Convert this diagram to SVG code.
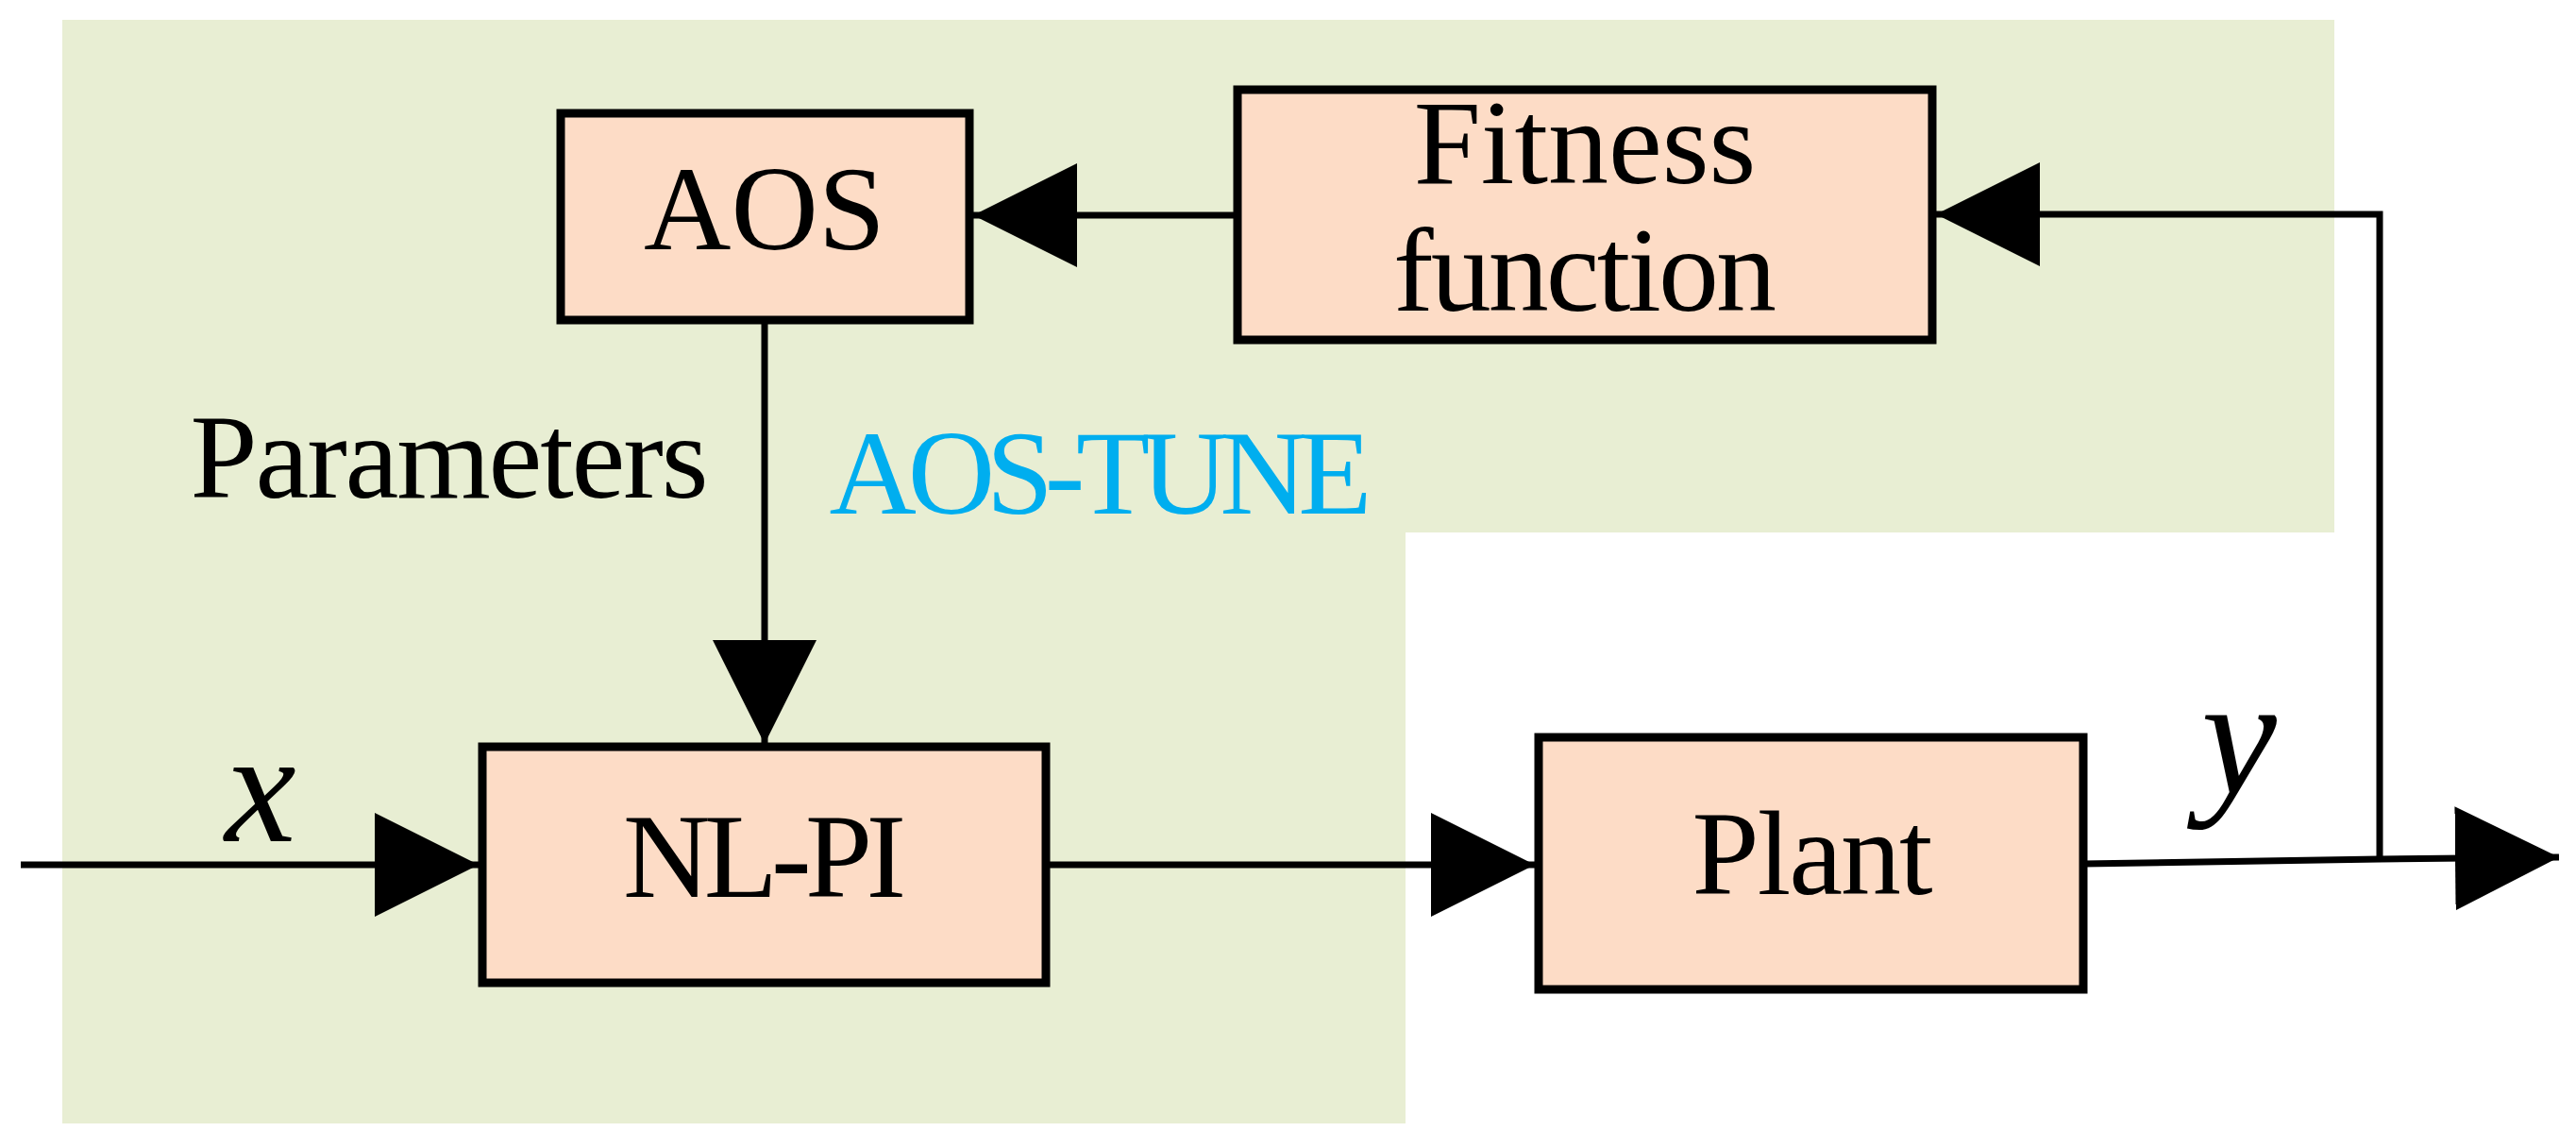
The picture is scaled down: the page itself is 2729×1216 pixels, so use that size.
<svg xmlns="http://www.w3.org/2000/svg" width="2729" height="1216" viewBox="0 0 2729 1216">
<style>
.box{fill:#FDDCC6;stroke:#000;stroke-width:9}
.t{font-family:"Liberation Serif",serif;font-size:128px;fill:#000;text-anchor:middle}
.ln{stroke:#000;stroke-width:7;fill:none}
</style>
<defs>
<marker id="a" markerUnits="userSpaceOnUse" markerWidth="112" markerHeight="112" refX="110" refY="55" orient="auto"><path d="M0,0 L110,55 L0,110 Z" fill="#000"/></marker>
</defs>
<path d="M66,21 H2473 V564 H1489 V1190 H66 Z" fill="#E8EED3"/>
<g id="connectors">
<path class="ln" d="M1311,228 H1031" marker-end="url(#a)"/>
<path class="ln" d="M2207,915 L2521,910"/>
<path class="ln" d="M2521,910 L2711,908" marker-end="url(#a)"/>
<path class="ln" d="M2521,910 V227 H2051" marker-end="url(#a)"/>
<path class="ln" d="M810,339 V788" marker-end="url(#a)"/>
<path class="ln" d="M22,916 H507" marker-end="url(#a)"/>
<path class="ln" d="M1108,916 H1626" marker-end="url(#a)"/>
</g>
<g id="aos"><rect class="box" x="594" y="120" width="433" height="219"/><text class="t" x="810" y="264">AOS</text></g>
<g id="fitness"><rect class="box" x="1311" y="95" width="736" height="265"/><text class="t" x="1679" y="194">Fitness</text><text class="t" x="1679" y="329" textLength="406">function</text></g>
<g id="nlpi"><rect class="box" x="511" y="791" width="597" height="250"/><text class="t" x="810" y="950" textLength="300">NL-PI</text></g>
<g id="plant"><rect class="box" x="1630" y="781" width="577" height="267"/><text class="t" x="1920" y="947" textLength="255">Plant</text></g>
<text class="t" x="476" y="527" textLength="549">Parameters</text>
<text class="t" x="1166" y="544" textLength="575" style="fill:#00AEEF">AOS-TUNE</text>
<text class="t" x="276" y="891" style="font-style:italic;font-size:170px">x</text>
<text class="t" x="2372" y="840" style="font-style:italic;font-size:180px">y</text>
</svg>
